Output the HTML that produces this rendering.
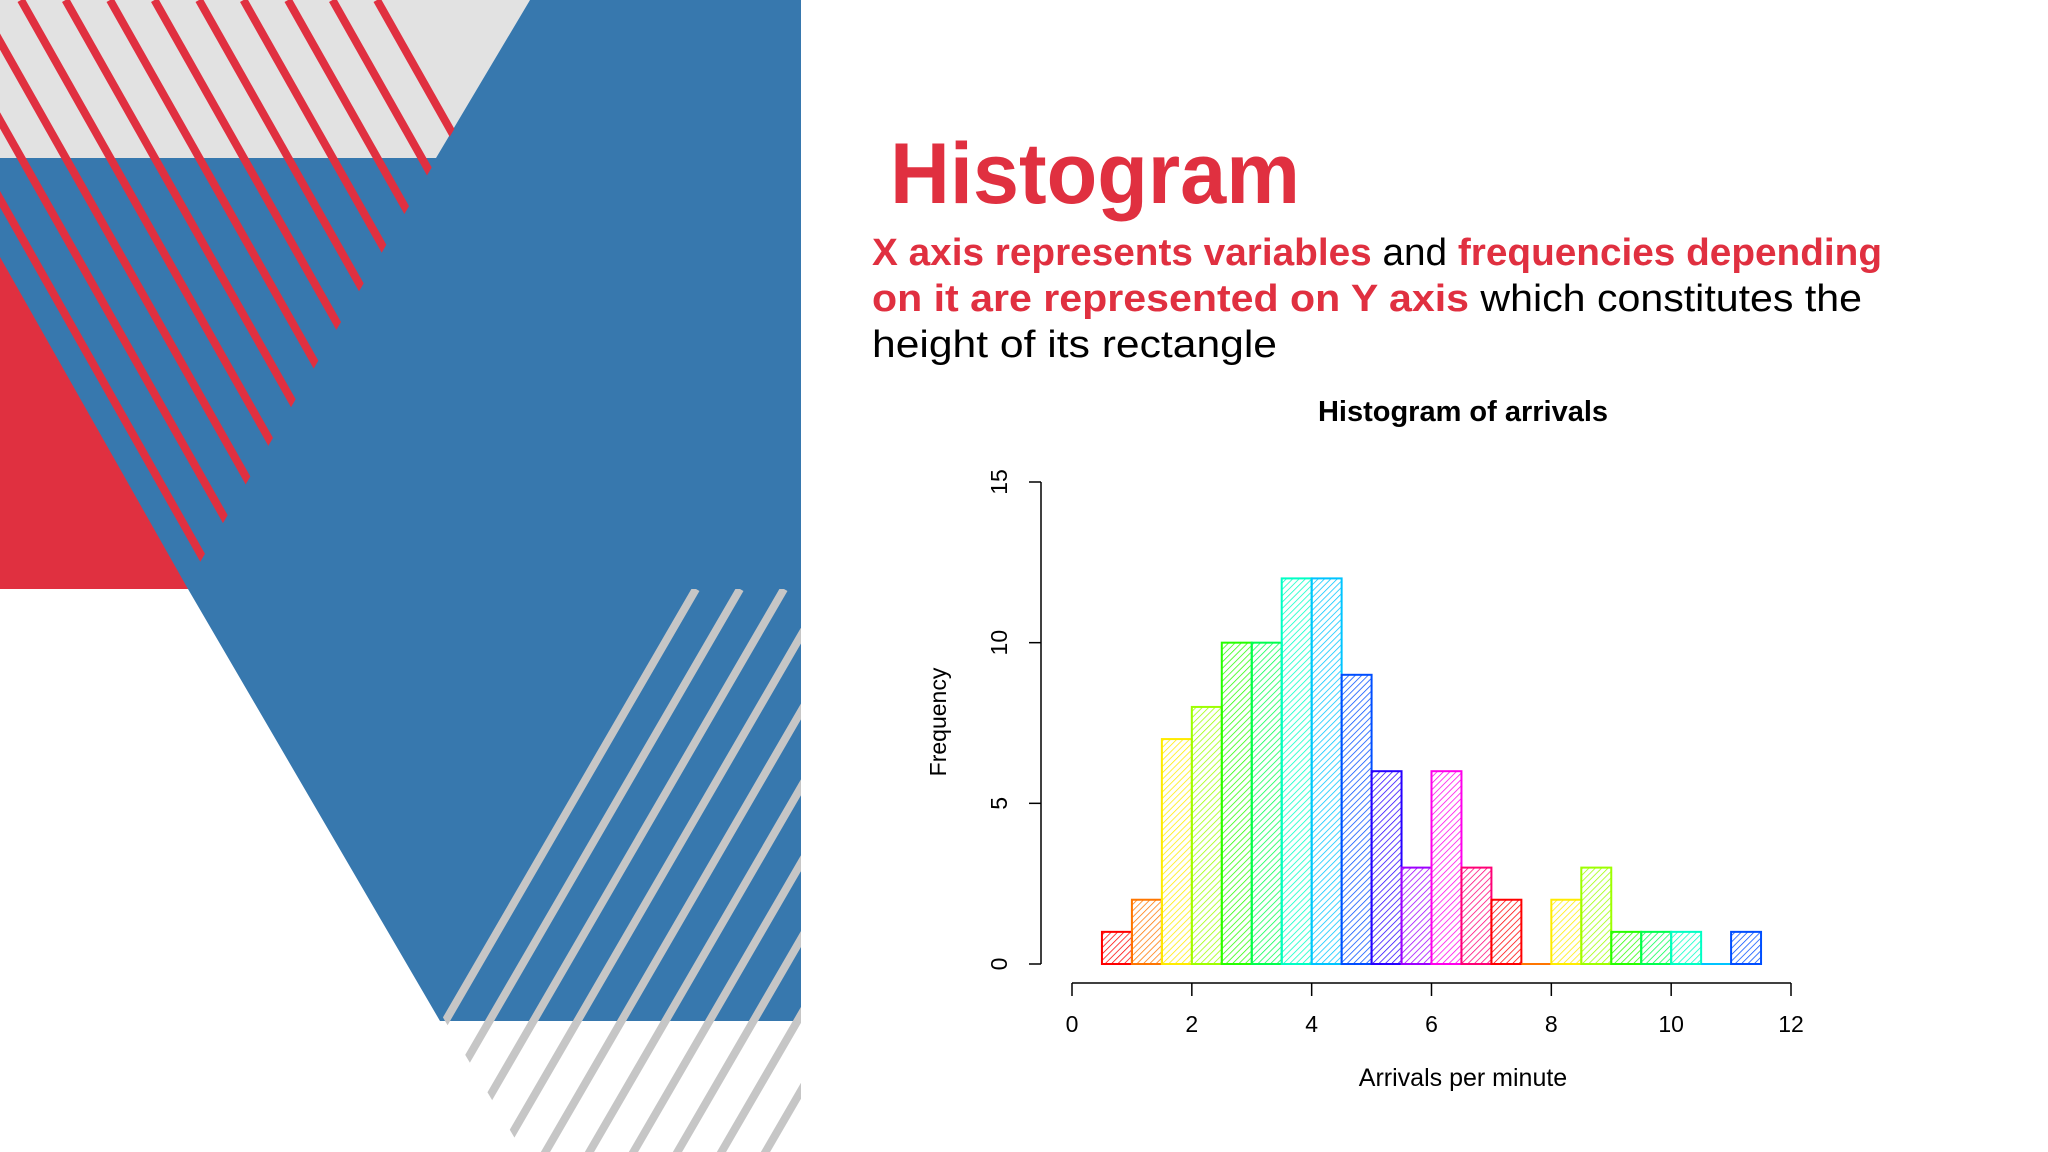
<!DOCTYPE html>
<html><head><meta charset="utf-8">
<style>
html,body{margin:0;padding:0;background:#fff;width:2048px;height:1152px;overflow:hidden}
svg{display:block;position:absolute;left:0;top:0}
</style></head>
<body>
<svg id="page" width="2048" height="1152" viewBox="0 0 2048 1152" xmlns="http://www.w3.org/2000/svg">
<defs>
<clipPath id="redClip"><polygon points="0,0 530,0 0,903"/></clipPath>
<clipPath id="grayClip"><polygon points="188,589 801,589 801,1152 523,1152"/></clipPath>
</defs>
<g>
<rect x="0" y="0" width="801" height="1152" fill="#ffffff"/>
<polygon points="0,0 530,0 436,158 0,158" fill="#e2e2e2"/>
<polygon points="0,158 436,158 530,0 801,0 801,1021 440,1021 188,589 0,589" fill="#3778ae"/>
<polygon points="0,257 188,589 0,589" fill="#e03040"/>
<g id="redStripes" clip-path="url(#redClip)"></g>
<g id="grayStripes" clip-path="url(#grayClip)"></g>
</g>

<text x="890" y="203" font-family="Liberation Sans, sans-serif" font-weight="bold" font-size="86" fill="#e03040" textLength="410" lengthAdjust="spacingAndGlyphs">Histogram</text>

<g font-family="'Comic Sans MS','Liberation Sans',sans-serif" font-size="38">
<text x="872" y="265" textLength="1010" lengthAdjust="spacingAndGlyphs"><tspan fill="#e03040" font-weight="bold">X axis represents variables</tspan> <tspan fill="#000">and</tspan> <tspan fill="#e03040" font-weight="bold">frequencies depending</tspan></text>
<text x="872" y="311" textLength="990" lengthAdjust="spacingAndGlyphs"><tspan fill="#e03040" font-weight="bold">on it are represented on Y axis</tspan> <tspan fill="#000">which constitutes the</tspan></text>
<text x="872" y="357" textLength="405" lengthAdjust="spacingAndGlyphs" fill="#000">height of its rectangle</text>
</g>

<g id="chart" font-family="Liberation Sans, sans-serif">
<defs id="patterns"></defs>
<text x="1463" y="421" text-anchor="middle" font-weight="bold" font-size="29" fill="#000">Histogram of arrivals</text>
<text transform="translate(946,722) rotate(-90)" text-anchor="middle" font-size="23" fill="#000">Frequency</text>
<text x="1463" y="1086" text-anchor="middle" font-size="25" fill="#000">Arrivals per minute</text>
<g id="bars"></g>
<g id="axes"></g>
</g>
</svg>
<script>
const binStarts = [0.5,1,1.5,2,2.5,3,3.5,4,4.5,5,5.5,6,6.5,7,7.5,8,8.5,9,9.5,10,10.5,11];
const counts = [1,2,7,8,10,10,12,12,9,6,3,6,3,2,0,2,3,1,1,1,0,1];
const binWidth = 0.5;
const xTicks = [0,2,4,6,8,10,12];
const yTicks = [0,5,10,15];

const NS = "http://www.w3.org/2000/svg";
function xs(v){ return 1072 + (v-0)*(1791-1072)/12; }
function ys(v){ return 964 - v*(964-482)/15; }
function mk(tag, attrs, parent){
  const e = document.createElementNS(NS, tag);
  for (const k in attrs) e.setAttribute(k, attrs[k]);
  parent.appendChild(e);
  return e;
}

const rs = document.getElementById('redStripes');
for (let k=-3;k<=8;k++){
  const x0 = 21 + 44.5*k;
  const l = mk('line',{x1:x0,y1:0,x2:x0+0.565*903,y2:903,stroke:'#e03040','stroke-width':8},rs);
  
  
}
const gs = document.getElementById('grayStripes');
for (let k=0;k<=11;k++){
  const xt = 696 + 44*k;
  const l = mk('line',{x1:xt,y1:589,x2:xt-0.58*571,y2:1160,stroke:'#c6c6c6','stroke-width':8},gs);
  
  
}

const defs = document.getElementById('patterns');
const bars = document.getElementById('bars');
binStarts.forEach((b,i)=>{
  const hue = ((i%13)*360/13);
  const col = 'hsl('+hue+',100%,50%)';
  const p = mk('pattern',{id:'hatch'+i,patternUnits:'userSpaceOnUse',width:4.5,height:4.5,patternTransform:'rotate(45)'},defs);
  mk('line',{x1:0,y1:0,x2:0,y2:4.5,stroke:col,'stroke-width':1.5},p);
  const x1 = xs(b), x2 = xs(b+binWidth);
  const y = ys(counts[i]);
  if (counts[i] > 0) {
    const r = mk('rect',{x:x1,y:y,width:x2-x1,height:ys(0)-y,fill:'url(#hatch'+i+')',stroke:col,'stroke-width':2},bars);
    
    
  } else {
    const r = mk('line',{x1:x1,y1:y,x2:x2,y2:y,stroke:col,'stroke-width':2},bars);
    
    
  }
});

const axes = document.getElementById('axes');
const ya = mk('line',{x1:1041,y1:ys(yTicks[0]),x2:1041,y2:ys(yTicks[yTicks.length-1]),stroke:'#000','stroke-width':1.5},axes);


yTicks.forEach(t=>{
  mk('line',{x1:1029,y1:ys(t),x2:1041,y2:ys(t),stroke:'#000','stroke-width':1.5},axes);
  const tx = mk('text',{transform:'translate(1007,'+ys(t)+') rotate(-90)','text-anchor':'middle','font-size':23,fill:'#000'},axes);
  tx.textContent = t;
  
  
});
const xa = mk('line',{x1:xs(xTicks[0]),y1:983,x2:xs(xTicks[xTicks.length-1]),y2:983,stroke:'#000','stroke-width':1.5},axes);


xTicks.forEach(t=>{
  mk('line',{x1:xs(t),y1:983,x2:xs(t),y2:996,stroke:'#000','stroke-width':1.5},axes);
  const tx = mk('text',{x:xs(t),y:1032,'text-anchor':'middle','font-size':23,fill:'#000'},axes);
  tx.textContent = t;
  
  
});
</script>
</body></html>
